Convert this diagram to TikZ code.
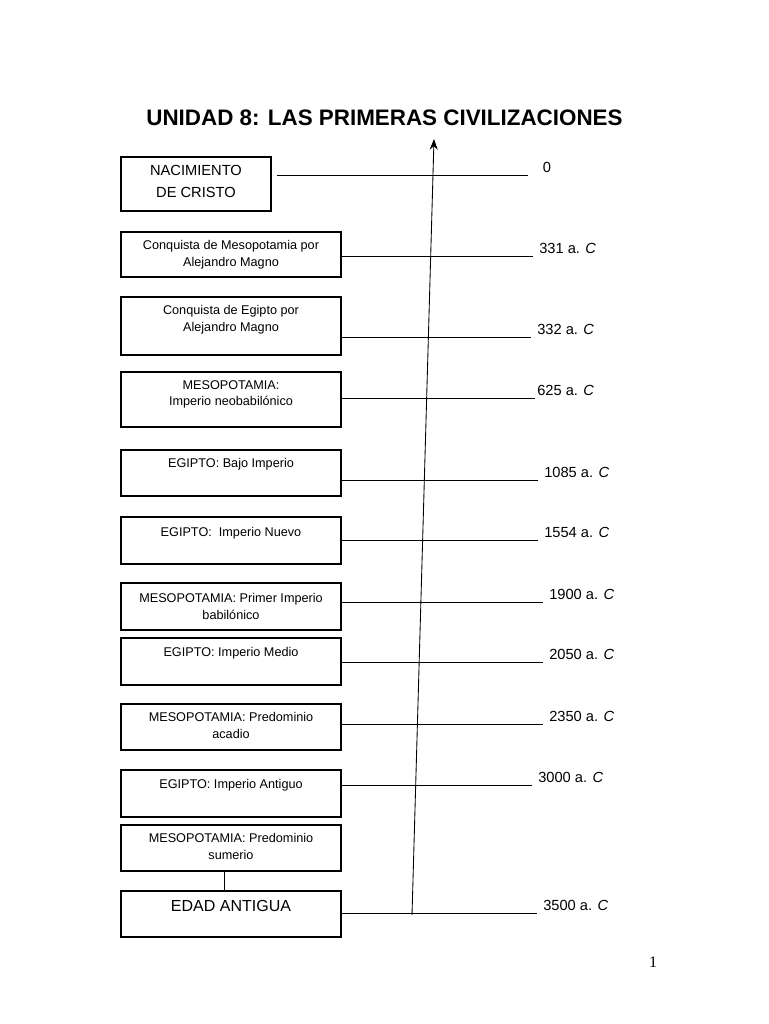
\documentclass[tikz,border=0pt]{standalone}
\usepackage{fontspec}
\setmainfont{Liberation Sans}
\newfontfamily\pagefont{Liberation Serif}
\usetikzlibrary{arrows.meta,positioning}

\tikzset{
  evento/.style={draw, line width=0.8pt, minimum width=165pt, inner sep=0pt},
  evtexto/.style={align=center, inner sep=0pt, font=\fontsize{9.5}{12.5}\selectfont},
  fecha/.style={anchor=south west, inner xsep=4.5pt, inner ysep=1.5pt, text depth=0pt, font=\fontsize{11}{13}\selectfont},
  raya/.style={line width=0.65pt}
}

\begin{document}
\begin{tikzpicture}[x=0.75pt,y=-0.75pt]
\useasboundingbox (0,0) rectangle (768,1024);

% title
\node[font=\bfseries\fontsize{16.8}{19}\selectfont] (titulo) at (384.5,118) {UNIDAD 8: LAS PRIMERAS CIVILIZACIONES};

% boxes, newest at the top
\node[evento, minimum width=112.5pt, minimum height=40.5pt] (b1) at (196,184) {};
\node[evento, minimum height=33.75pt] (b2) at (231,254.5) {};
\node[evento, minimum height=43.5pt] (b3) at (231,326) {};
\node[evento, minimum height=41.25pt] (b4) at (231,399.5) {};
\node[evento, minimum height=34.5pt] (b5) at (231,473) {};
\node[evento, minimum height=35.25pt] (b6) at (231,540.5) {};
\node[evento, minimum height=35.25pt] (b7) at (231,606.5) {};
\node[evento, minimum height=35.25pt] (b8) at (231,661.5) {};
\node[evento, minimum height=34.5pt] (b9) at (231,727) {};
\node[evento, minimum height=35.25pt] (b10) at (231,793.5) {};
\node[evento, minimum height=34.5pt] (b11) at (231,848) {};
\node[evento, minimum height=34.5pt] (b12) at (231,914) {};

% texts inside the boxes
\node[evtexto, font=\fontsize{11}{16.5}\selectfont, below=6.5pt of b1.north] (t1) {NACIMIENTO\\DE CRISTO};
\node[evtexto, below=6.5pt of b2.north] (t2) {Conquista de Mesopotamia por\\Alejandro Magno};
\node[evtexto, below=6.5pt of b3.north] (t3) {Conquista de Egipto por\\Alejandro Magno};
\node[evtexto, below=6.5pt of b4.north] (t4) {MESOPOTAMIA:\\Imperio neobabilónico};
\node[evtexto, below=6.5pt of b5.north] (t5) {EGIPTO: Bajo Imperio};
\node[evtexto, below=8pt of b6.north] (t6) {EGIPTO:\ \ Imperio Nuevo};
\node[evtexto, below=8pt of b7.north] (t7) {MESOPOTAMIA: Primer Imperio\\babilónico};
\node[evtexto, below=7pt of b8.north] (t8) {EGIPTO: Imperio Medio};
\node[evtexto, below=6.5pt of b9.north] (t9) {MESOPOTAMIA: Predominio\\acadio};
\node[evtexto, below=7pt of b10.north] (t10) {EGIPTO: Imperio Antiguo};
\node[evtexto, below=6.5pt of b11.north] (t11) {MESOPOTAMIA: Predominio\\sumerio};
\node[evtexto, font=\fontsize{12}{14}\selectfont, below=7.5pt of b12.north] (t12) {EDAD ANTIGUA};

% dates
\node[fecha, inner xsep=11pt] (d1) at (528,175) {0};
\node[fecha] (d2) at (533,256) {331 a. \textit{C}};
\node[fecha] (d3) at (531,337) {332 a. \textit{C}};
\node[fecha, inner xsep=1.5pt] (d4) at (535,398) {625 a. \textit{C}};
\node[fecha] (d5) at (538,480) {1085 a. \textit{C}};
\node[fecha] (d6) at (538,540) {1554 a. \textit{C}};
\node[fecha] (d7) at (543,602) {1900 a. \textit{C}};
\node[fecha] (d8) at (543,662) {2050 a. \textit{C}};
\node[fecha] (d9) at (543,724) {2350 a. \textit{C}};
\node[fecha] (d10) at (532,785) {3000 a. \textit{C}};
\node[fecha] (d12) at (537,913) {3500 a. \textit{C}};

% lines from the boxes to the dates
\draw[raya] ([xshift=3.75pt]b1.east |- d1.south) -- (d1.south west);
\draw[raya] (b2.east |- d2.south) -- (d2.south west);
\draw[raya] (b3.east |- d3.south) -- (d3.south west);
\draw[raya] (b4.east |- d4.south) -- (d4.south west);
\draw[raya] (b5.east |- d5.south) -- (d5.south west);
\draw[raya] (b6.east |- d6.south) -- (d6.south west);
\draw[raya] (b7.east |- d7.south) -- (d7.south west);
\draw[raya] (b8.east |- d8.south) -- (d8.south west);
\draw[raya] (b9.east |- d9.south) -- (d9.south west);
\draw[raya] (b10.east |- d10.south) -- (d10.south west);
\draw[raya] (b12.east |- d12.south) -- (d12.south west);

% sumerio joins edad antigua
\draw[raya] ([xshift=-5pt]b11.south) -- ([xshift=-5pt]b12.north);

% time axis
\coordinate (ejeabajo) at (412,915);
\coordinate (ejearriba) at (434,139);
\draw[raya, -{Stealth[length=8pt,width=6pt]}] (ejeabajo) -- (ejearriba);

% page number
\node[font=\pagefont\fontsize{12}{14}\selectfont] (pagina) at (653,962) {1};

\end{tikzpicture}
\end{document}
